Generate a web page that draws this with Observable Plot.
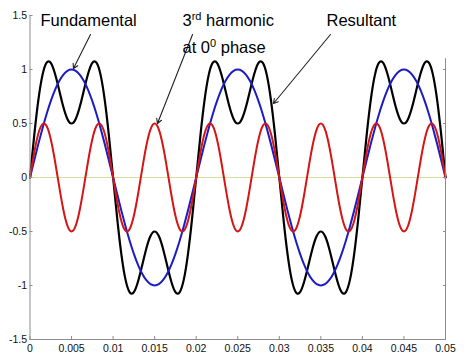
<!DOCTYPE html>
<html><head><meta charset="utf-8">
<script src="https://cdn.jsdelivr.net/npm/d3@7"></script>
<script src="https://cdn.jsdelivr.net/npm/@observablehq/plot@0.6"></script>
<style>html,body{margin:0;padding:0;background:#fff}</style>
</head><body><div id="chart"></div>
<script>
// sample spacing in seconds
const tStep = 0.0005;

const fundamental = [
0,0.156,0.309,0.454,0.588,0.707,0.809,0.891,0.951,0.988,1,0.988,0.951,0.891,0.809,0.707,0.588,0.454,0.309,0.156,
0,-0.156,-0.309,-0.454,-0.588,-0.707,-0.809,-0.891,-0.951,-0.988,-1,-0.988,-0.951,-0.891,-0.809,-0.707,-0.588,-0.454,-0.309,-0.156,
0,0.156,0.309,0.454,0.588,0.707,0.809,0.891,0.951,0.988,1,0.988,0.951,0.891,0.809,0.707,0.588,0.454,0.309,0.156,
0,-0.156,-0.309,-0.454,-0.588,-0.707,-0.809,-0.891,-0.951,-0.988,-1,-0.988,-0.951,-0.891,-0.809,-0.707,-0.588,-0.454,-0.309,-0.156,
0,0.156,0.309,0.454,0.588,0.707,0.809,0.891,0.951,0.988,1,0.988,0.951,0.891,0.809,0.707,0.588,0.454,0.309,0.156,
0];

const thirdHarmonic = [
0,0.227,0.405,0.494,0.476,0.354,0.155,-0.078,-0.294,-0.446,-0.5,-0.446,-0.294,-0.078,0.155,0.354,0.476,0.494,0.405,0.227,
0,-0.227,-0.405,-0.494,-0.476,-0.354,-0.155,0.078,0.294,0.446,0.5,0.446,0.294,0.078,-0.155,-0.354,-0.476,-0.494,-0.405,-0.227,
0,0.227,0.405,0.494,0.476,0.354,0.155,-0.078,-0.294,-0.446,-0.5,-0.446,-0.294,-0.078,0.155,0.354,0.476,0.494,0.405,0.227,
0,-0.227,-0.405,-0.494,-0.476,-0.354,-0.155,0.078,0.294,0.446,0.5,0.446,0.294,0.078,-0.155,-0.354,-0.476,-0.494,-0.405,-0.227,
0,0.227,0.405,0.494,0.476,0.354,0.155,-0.078,-0.294,-0.446,-0.5,-0.446,-0.294,-0.078,0.155,0.354,0.476,0.494,0.405,0.227,
0];

const resultant = [
0,0.383,0.714,0.948,1.063,1.061,0.963,0.813,0.657,0.542,0.5,0.542,0.657,0.813,0.963,1.061,1.063,0.948,0.714,0.383,
0,-0.383,-0.714,-0.948,-1.063,-1.061,-0.963,-0.813,-0.657,-0.542,-0.5,-0.542,-0.657,-0.813,-0.963,-1.061,-1.063,-0.948,-0.714,-0.383,
0,0.383,0.714,0.948,1.063,1.061,0.963,0.813,0.657,0.542,0.5,0.542,0.657,0.813,0.963,1.061,1.063,0.948,0.714,0.383,
0,-0.383,-0.714,-0.948,-1.063,-1.061,-0.963,-0.813,-0.657,-0.542,-0.5,-0.542,-0.657,-0.813,-0.963,-1.061,-1.063,-0.948,-0.714,-0.383,
0,0.383,0.714,0.948,1.063,1.061,0.963,0.813,0.657,0.542,0.5,0.542,0.657,0.813,0.963,1.061,1.063,0.948,0.714,0.383,
0];

const xTicks = [0,0.005,0.01,0.015,0.02,0.025,0.03,0.035,0.04,0.045,0.05];
const xTickLabels = ["0","0.005","0.01","0.015","0.02","0.025","0.03","0.035","0.04","0.045","0.05"];
const yTicks = [-1.5,-1,-0.5,0,0.5,1,1.5];
const yTickLabels = ["-1.5","-1","-0.5","0","0.5","1","1.5"];
const rightTicks = [-1.5,-1,-0.5,0,0.5,1];

const labelText = ["Fundamental","3^{rd} harmonic","at 0^{0} phase","Resultant"];
const labelX = [0.00126,0.01835,0.01835,0.03568];
const labelY = [1.407,1.407,1.157,1.407];

const arrowX1 = [0.00728,0.01956,0.03616];
const arrowY1 = [1.324,1.324,1.324];
const arrowX2 = [0.00523,0.01534,0.0293];
const arrowY2 = [1.009,0.50,0.685];

const rows = s => s.map((v, i) => ({t: i * tStep, v}));
const labels = labelText.map((text, i) => ({text, x: labelX[i], y: labelY[i]}));
const arrows = arrowX1.map((x1, i) => ({x1, y1: arrowY1[i], x2: arrowX2[i], y2: arrowY2[i]}));

const axisGray = "#8c8c8c";

const chart = Plot.plot({
  width: 474,
  height: 361,
  marginLeft: 29.5,
  marginRight: 29,
  marginTop: 15,
  marginBottom: 22,
  style: {fontFamily: "'Liberation Sans', Arial, sans-serif", fontSize: "10.5px", background: "#fff", color: "#111"},
  x: {domain: [0, 0.05], label: null},
  y: {domain: [-1.5, 1.5], label: null},
  marks: [
    Plot.ruleY([0], {stroke: "#d6de9e", strokeWidth: 1.2}),
    Plot.lineY(rows(resultant), {x: "t", y: "v", stroke: "#000", strokeWidth: 2.2, curve: "natural"}),
    Plot.lineY(rows(fundamental), {x: "t", y: "v", stroke: "#1c1cc4", strokeWidth: 2, curve: "natural"}),
    Plot.lineY(rows(thirdHarmonic), {x: "t", y: "v", stroke: "#d41616", strokeWidth: 2, curve: "natural"}),
    Plot.ruleY([-1.5], {stroke: axisGray}),
    Plot.ruleX([0], {stroke: axisGray}),
    Plot.ruleX([0.05], {y1: -1.5, y2: 1.1, stroke: axisGray}),
    Plot.axisX({ticks: xTicks, tickFormat: d => xTickLabels[xTicks.indexOf(d)], tickSize: -3, tickPadding: 8, stroke: axisGray, fill: "#111", label: null}),
    Plot.axisY({ticks: yTicks, tickFormat: d => yTickLabels[yTicks.indexOf(d)], tickSize: -3, tickPadding: 6, stroke: axisGray, fill: "#111", label: null}),
    Plot.axisY({anchor: "right", ticks: rightTicks, tickFormat: () => "", tickSize: -3, tickPadding: 6, stroke: axisGray, label: null}),
    Plot.arrow(arrows, {x1: "x1", y1: "y1", x2: "x2", y2: "y2", stroke: "#222", strokeWidth: 1.1, headLength: 7}),
    Plot.text(labels, {x: "x", y: "y", text: "text", textAnchor: "start", lineAnchor: "bottom", fontSize: 16.5, fill: "#000"})
  ]
});

// render superscripts written as ^{...}
d3.select(chart).selectAll("text").each(function() {
  const s = this.textContent;
  if (!s.includes("^{")) return;
  const el = d3.select(this);
  el.text(null);
  const parts = s.split(/(\^\{[^}]*\})/);
  let shifted = false;
  for (const p of parts) {
    if (!p) continue;
    if (p.startsWith("^{")) {
      el.append("tspan").attr("dy", -6).attr("font-size", 11).text(p.slice(2, -1));
      shifted = true;
    } else {
      const ts = el.append("tspan").text(p);
      if (shifted) { ts.attr("dy", 6); shifted = false; }
    }
  }
});

document.getElementById("chart").appendChild(chart);
</script>
</body></html>
